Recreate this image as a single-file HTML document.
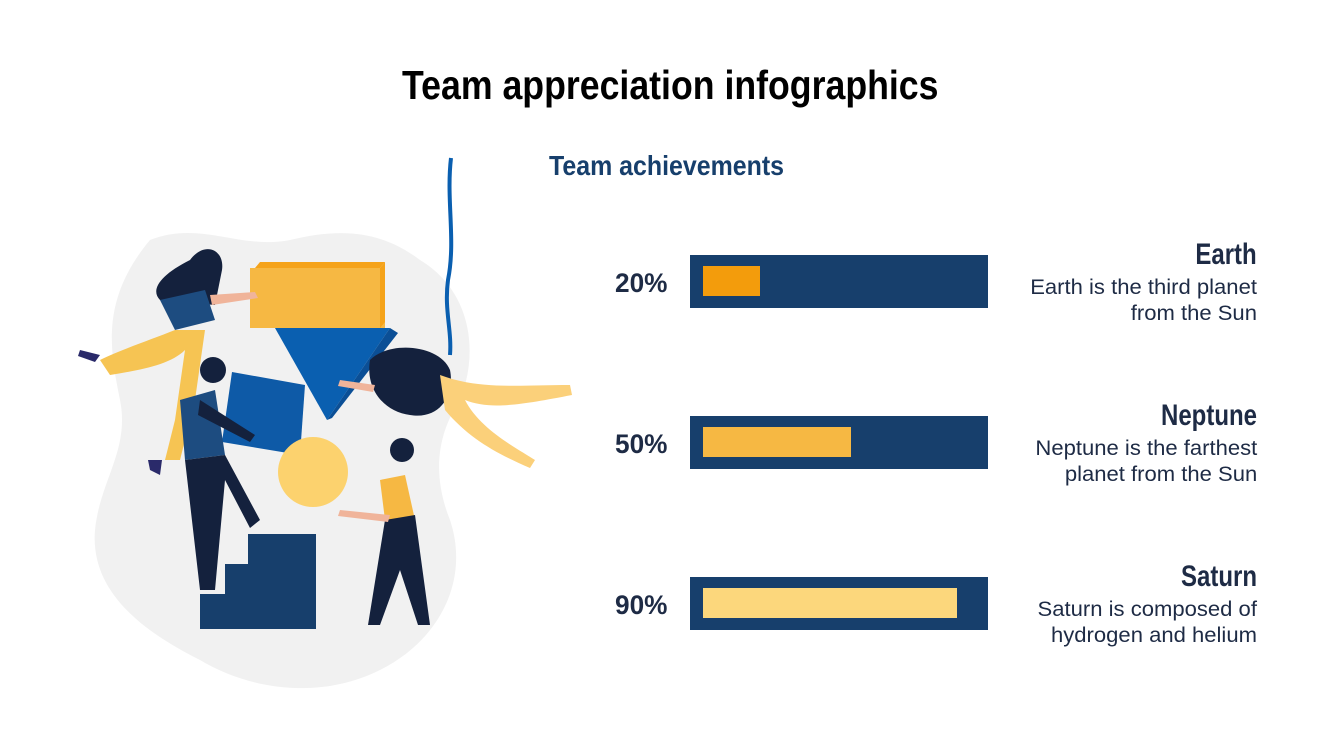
<!DOCTYPE html>
<html><head><meta charset="utf-8"><style>
body{margin:0;width:1336px;height:752px;background:#fff;overflow:hidden;position:relative;font-family:"Liberation Sans",sans-serif}
.t{position:absolute;white-space:nowrap;transform-origin:left top}
.bar{position:absolute;left:690px;width:298px;height:53px;background:#173f6c}
.in{position:absolute;left:13px;top:11px;height:30px}
.pct{position:absolute;left:615px;font-weight:bold;font-size:27px;color:#1e2b45;transform:scaleX(.97);transform-origin:left top}
.h{position:absolute;right:79px;font-weight:bold;font-size:30px;color:#1e2b45;transform:scaleX(.8);transform-origin:right top;white-space:nowrap}
.d{position:absolute;right:79px;font-size:21px;color:#1e2b45;text-align:right;line-height:26px;transform:scaleX(1.05);transform-origin:right top;white-space:nowrap}
</style></head><body>
<div class="t" style="left:402px;top:62px;font-size:41px;font-weight:bold;color:#000;transform:scaleX(.87)">Team appreciation infographics</div>
<div class="t" style="left:549px;top:150px;font-size:28px;font-weight:bold;color:#173f6c;transform:scaleX(.89)">Team achievements</div>

<div class="pct" style="top:268px">20%</div>
<div class="pct" style="top:429px">50%</div>
<div class="pct" style="top:590px">90%</div>
<div class="bar" style="top:255px"><div class="in" style="width:57px;background:#f39c0c"></div></div>
<div class="bar" style="top:416px"><div class="in" style="width:148px;background:#f6b843"></div></div>
<div class="bar" style="top:577px"><div class="in" style="width:254px;background:#fcd77c"></div></div>

<div class="h" style="top:238px">Earth</div>
<div class="d" style="top:275px">Earth is the third planet<br>from the Sun</div>
<div class="h" style="top:399px">Neptune</div>
<div class="d" style="top:436px">Neptune is the farthest<br>planet from the Sun</div>
<div class="h" style="top:560px">Saturn</div>
<div class="d" style="top:597px">Saturn is composed of<br>hydrogen and helium</div>

<svg width="1336" height="752" style="position:absolute;left:0;top:0">
<path d="M150 240 C200 220 240 250 290 240 C340 228 380 230 420 260 C470 290 480 350 460 400 C440 430 430 470 450 520 C470 580 440 640 380 670 C320 700 250 690 200 660 C140 630 90 590 95 530 C100 480 130 450 120 400 C110 350 100 300 150 240Z" fill="#f1f1f1"/>
<path d="M451 158 C446 200 456 240 448 280 C444 310 452 330 450 355" stroke="#0a5fb0" stroke-width="4" fill="none"/>
<rect x="250" y="268" width="135" height="60" fill="#f6b843"/>
<polygon points="255,268 260,262 385,262 380,268" fill="#f5a31a"/>
<polygon points="380,268 385,262 385,322 380,328" fill="#f5a31a"/>
<polygon points="275,328 390,328 327,420" fill="#0a5fb0"/>
<polygon points="390,328 398,333 332,418 327,420" fill="#0b4f96"/>
<polygon points="232,372 305,385 300,455 222,442" fill="#0e5aa7"/>
<polygon points="197,605 313,605 313,510 245,510 245,540 222,540 222,570 197,570" fill="#173f6c" transform="translate(3,24)"/>
<circle cx="313" cy="472" r="35" fill="#fcd26e"/>
<path d="M190 260 C205 240 225 250 222 270 L215 305 L160 300 C150 290 160 275 190 260Z" fill="#14213d"/>
<path d="M160 300 L205 290 L215 320 L175 330Z" fill="#1d4c80"/>
<path d="M175 330 C150 340 120 350 100 360 L110 375 C140 370 170 365 185 350 L175 420 L165 460 L180 460 L195 400 L205 330Z" fill="#f6c453"/>
<path d="M80 350 L100 355 L95 362 L78 356Z M148 460 L162 460 L160 475 L150 470Z" fill="#2a2a6a"/>
<path d="M210 295 L255 292 L258 298 L212 305Z" fill="#f0b49a"/>
<circle cx="213" cy="370" r="13" fill="#14213d"/>
<path d="M180 400 L215 390 L225 455 L185 460Z" fill="#1d4c80"/>
<path d="M185 460 L225 455 L260 520 L250 528 L225 480 L215 590 L200 590Z" fill="#14213d"/>
<path d="M200 400 L255 435 L250 442 L198 415Z" fill="#14213d"/>
<path d="M370 360 C390 340 440 345 450 370 C455 395 440 420 410 415 C385 412 365 390 370 360Z" fill="#14213d"/>
<path d="M440 375 C480 390 520 385 570 385 L572 395 C520 405 490 410 465 400 C480 430 520 450 535 460 L530 468 C500 455 470 440 445 410Z" fill="#fbd07a"/>
<path d="M340 380 L375 385 L373 392 L338 386Z" fill="#f0b49a"/>
<circle cx="402" cy="450" r="12" fill="#14213d"/>
<path d="M380 480 L405 475 L415 520 L385 520Z" fill="#f6b843"/>
<path d="M385 520 L415 515 L430 625 L418 625 L400 570 L380 625 L368 625Z" fill="#14213d"/>
<path d="M340 510 L390 515 L388 522 L338 516Z" fill="#f0b49a"/>
</svg>
</body></html>
